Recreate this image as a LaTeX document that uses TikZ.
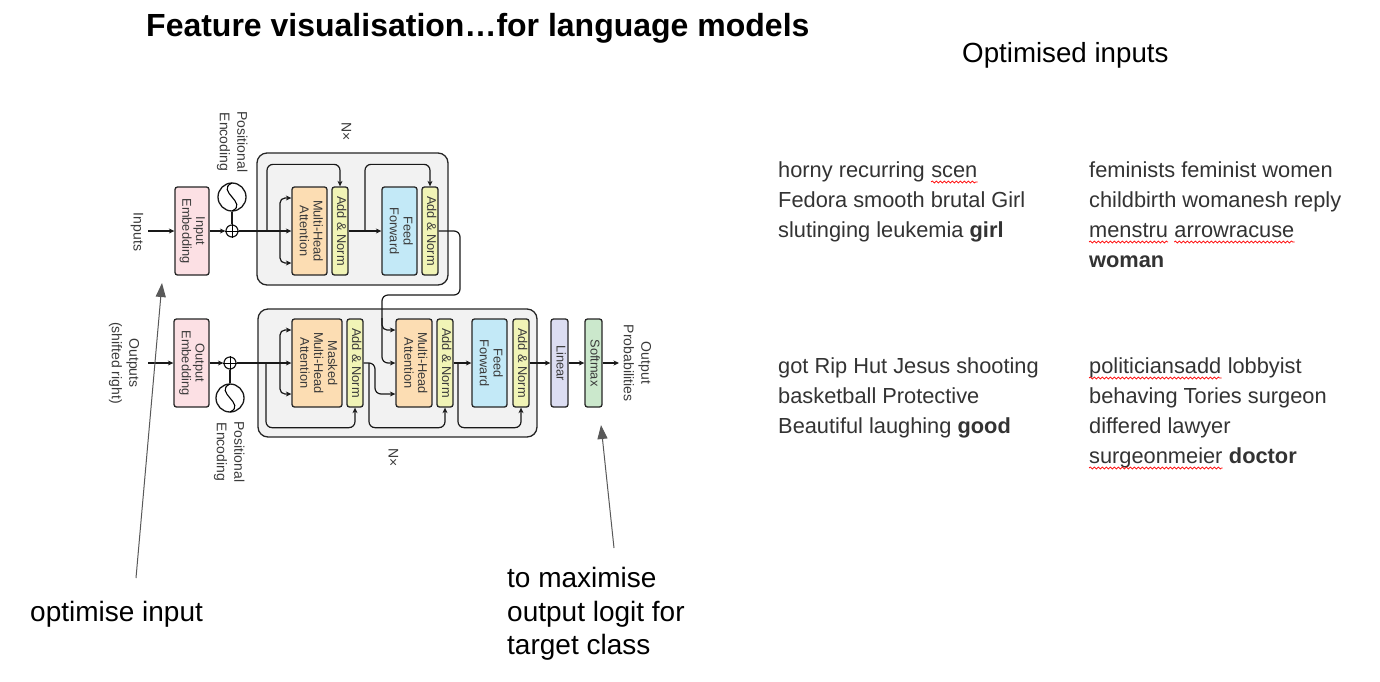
\documentclass[tikz,border=0pt]{standalone}
\usepackage{fontspec}
\setmainfont{Liberation Sans}
\usetikzlibrary{arrows.meta,calc,decorations.pathmorphing}
\definecolor{embpink}{HTML}{FCE0E4}
\definecolor{mhaorange}{HTML}{FCDDB3}
\definecolor{addyellow}{HTML}{F1F4B6}
\definecolor{ffblue}{HTML}{C3E9F7}
\definecolor{linpurple}{HTML}{DCDDF2}
\definecolor{softgreen}{HTML}{CBE8CC}
\definecolor{blockgray}{HTML}{F2F2F2}
\definecolor{txtgray}{HTML}{333333}
\definecolor{diagtxt}{HTML}{3A3A3A}
\newcommand\rt[1]{\rotatebox{-90}{\begin{tabular}{@{}c@{}}#1\end{tabular}}}
\begin{document}
\begin{tikzpicture}[x=1pt,y=-1pt,
  box/.style={draw=black!85, line width=1.3pt, rounded corners=2.5pt, inner sep=0pt,
    minimum height=88pt, text=diagtxt, font=\fontsize{12.8}{13.8}\selectfont},
  blockbg/.style={draw=black!85, fill=blockgray, line width=1.3pt, rounded corners=10pt, inner sep=0pt},
  lbl/.style={inner sep=0pt, text=diagtxt, font=\fontsize{14}{17.5}\selectfont},
  wire/.style={line width=1.2pt, black!90},
  arr/.style={line width=1.2pt, black!90, -{Stealth[length=5.5pt,width=5pt]}},
  annoarr/.style={line width=1pt, black!65, -{Triangle[length=14pt,width=10pt]}},
  anno/.style={inner sep=0pt, anchor=base west, text=black, font=\fontsize{28}{34}\selectfont},
  lst/.style={inner sep=0pt, anchor=base west, text=txtgray, font=\fontsize{21.8}{30}\selectfont},
  squig/.style={red, line width=0.7pt, decorate, decoration={snake, amplitude=1pt, segment length=4pt}},
  pec/.style={circle, draw=black!90, line width=1.3pt, minimum size=28pt, inner sep=0pt},
  plusc/.style={circle, draw=black!90, line width=1.2pt, minimum size=12pt, inner sep=0pt}
]
\fill[white] (0,0) rectangle (1380,681);
\useasboundingbox (0,0) rectangle (1380,681);

% ---------- titles ----------
\node[inner sep=0pt, anchor=base west, font=\fontsize{32}{38}\selectfont\bfseries] (title) at (146,36) {Feature visualisation…for language models};
\node[inner sep=0pt, anchor=base west, font=\fontsize{27.7}{33}\selectfont] (optitle) at (962,62) {Optimised inputs};

% ---------- encoder ----------
\node[blockbg, minimum width=191pt, minimum height=132pt] (enc) at (352.5,219) {};
\node[box, fill=embpink, minimum width=34pt] (ie) at (192,231) {\rt{Input\\Embedding}};
\node[box, fill=mhaorange, minimum width=35pt] (mha1) at (309.5,231) {\rt{Multi-Head\\Attention}};
\node[box, fill=addyellow, minimum width=16pt] (an1) at (340,231) {\rt{Add \& Norm}};
\node[box, fill=ffblue, minimum width=35pt] (ff1) at (399.5,231) {\rt{Feed\\Forward}};
\node[box, fill=addyellow, minimum width=16pt] (an2) at (430,231) {\rt{Add \& Norm}};
\node[pec] (pe1) at (232,197) {};
\node[plusc] (p1) at (232,231) {};

\draw[line width=1.1pt] ($(pe1.center)+(0,-14)$) .. controls ($(pe1.center)+(-17,-6)$) and ($(pe1.center)+(17,6)$) .. ($(pe1.center)+(0,14)$);
\draw[line width=1pt] (p1.north) -- (p1.south) (p1.west) -- (p1.east);

\node[lbl] (inlbl) at (137,232) {\rt{Inputs}};
\node[lbl] (pelbl1) at (232,142) {\rt{Positional\\Encoding}};
\node[lbl] (nx1) at (345,132) {\rt{N×}};

\coordinate (inp) at (148,231);
\draw[arr] (inp) -- (ie.west);
\draw[arr] (ie.east) -- (p1.west);
\draw[wire] (pe1.south) -- (p1.north);
\draw[arr] (p1.east) -- (mha1.west);
\coordinate (f1) at (280,231);
\draw[arr, rounded corners=5pt] (f1) |- ($(mha1.west)+(0,-33)$);
\draw[arr, rounded corners=5pt] (f1) |- ($(mha1.west)+(0,32)$);
\coordinate (r1) at (267,231);
\draw[arr, rounded corners=6pt] (r1) |- ($(an1.north)+(0,-22)$) -- (an1.north);
\draw[arr] (an1.east) -- (ff1.west);
\coordinate (r2) at (365,231);
\draw[arr, rounded corners=6pt] (r2) |- ($(an2.north)+(0,-22)$) -- (an2.north);

% ---------- decoder ----------
\node[blockbg, minimum width=279pt, minimum height=128pt] (dec) at (397.5,373) {};
\node[box, fill=embpink, minimum width=35pt] (oe) at (191.5,363) {\rt{Output\\Embedding}};
\node[box, fill=mhaorange, minimum width=50pt] (mmha) at (317,363) {\rt{Masked\\Multi-Head\\Attention}};
\node[box, fill=addyellow, minimum width=16pt] (an3) at (355,363) {\rt{Add \& Norm}};
\node[box, fill=mhaorange, minimum width=36pt] (mha2) at (414,363) {\rt{Multi-Head\\Attention}};
\node[box, fill=addyellow, minimum width=16pt] (an4) at (445,363) {\rt{Add \& Norm}};
\node[box, fill=ffblue, minimum width=35pt] (ff2) at (489.5,363) {\rt{Feed\\Forward}};
\node[box, fill=addyellow, minimum width=16pt] (an5) at (521,363) {\rt{Add \& Norm}};
\node[box, fill=linpurple, minimum width=17pt] (lin) at (559.5,363) {\rt{Linear}};
\node[box, fill=softgreen, minimum width=17pt] (sm) at (593.5,363) {\rt{Softmax}};
\node[pec] (pe2) at (230,398) {};
\node[plusc] (p2) at (230,363) {};
\draw[line width=1.1pt] ($(pe2.center)+(0,-14)$) .. controls ($(pe2.center)+(-17,-6)$) and ($(pe2.center)+(17,6)$) .. ($(pe2.center)+(0,14)$);
\draw[line width=1pt] (p2.north) -- (p2.south) (p2.west) -- (p2.east);

\node[lbl] (outlbl) at (124,363) {\rt{Outputs\\(shifted right)}};
\node[lbl] (pelbl2) at (229,452) {\rt{Positional\\Encoding}};
\node[lbl] (nx2) at (392,458) {\rt{N×}};
\node[lbl] (oplbl) at (636,363) {\rt{Output\\Probabilities}};

\coordinate (outp) at (148,363);
\draw[arr] (outp) -- (oe.west);
\draw[arr] (oe.east) -- (p2.west);
\draw[wire] (pe2.north) -- (p2.south);
\draw[arr] (p2.east) -- (mmha.west);
\coordinate (f2) at (280,363);
\draw[arr, rounded corners=5pt] (f2) |- ($(mmha.west)+(0,-33)$);
\draw[arr, rounded corners=5pt] (f2) |- ($(mmha.west)+(0,31)$);
\coordinate (r3) at (266,363);
\draw[arr, rounded corners=6pt] (r3) |- ($(an3.south)+(0,20)$) -- (an3.south);
\coordinate (b3) at (375,363);
\draw[arr, rounded corners=6pt] (an3.east) -- (b3) |- ($(mha2.west)+(0,31)$);
\coordinate (r4) at (369,363);
\draw[arr, rounded corners=6pt] (r4) |- ($(an4.south)+(0,20)$) -- (an4.south);
% encoder output into decoder
\coordinate (e1) at (460,231);
\coordinate (e2) at (460,295);
\coordinate (e3) at (382,295);
\coordinate (e4) at (382,318);
\draw[arr, rounded corners=6pt] (an2.east) -- (e1) -- (e2) -- (e3) |- (mha2.west);
\draw[arr, rounded corners=5pt] (e4) |- ($(mha2.west)+(0,-33)$);
\draw[arr] (an4.east) -- (ff2.west);
\coordinate (r5) at (458,363);
\draw[arr, rounded corners=6pt] (r5) |- ($(an5.south)+(0,20)$) -- (an5.south);
\draw[arr] (an5.east) -- (lin.west);
\draw[arr] (lin.east) -- (sm.west);
\coordinate (outprob) at (619,363);
\draw[arr] (sm.east) -- (outprob);

% ---------- annotations ----------
\node[anno] (optin) at (30,621) {optimise input};
\coordinate (a1tail) at (136,578);
\coordinate (a1tip) at (162,283);
\draw[annoarr] (a1tail) -- (a1tip);
\node[anno] (tm1) at (507,587) {to maximise};
\node[anno] (tm2) at (507,621) {output logit for};
\node[anno] (tm3) at (507,654) {target class};
\coordinate (a2tail) at (614,548);
\coordinate (a2tip) at (601,425);
\draw[annoarr] (a2tail) -- (a2tip);

% ---------- optimised inputs lists ----------
\def\spw{6.06pt}
\node[lst] (g1a) at (778,177) {horny recurring};
\node[lst] (g1as) at ([xshift=\spw]g1a.base east) {scen};
\node[lst] (g1b) at (778,207) {Fedora smooth brutal Girl};
\node[lst] (g1c) at (778,237) {slutinging leukemia \textbf{girl}};
\draw[squig] ([yshift=-5pt]g1as.base west) -- ([yshift=-5pt]g1as.base east);

\node[lst] (g2a) at (1089,177) {feminists feminist women};
\node[lst] (g2b) at (1089,207) {childbirth womanesh reply};
\node[lst] (g2c) at (1089,237) {menstru};
\node[lst] (g2cc) at ([xshift=\spw]g2c.base east) {arrowracuse};
\node[lst] (g2d) at (1089,267) {\textbf{woman}};
\draw[squig] ([yshift=-5pt]g2c.base west) -- ([yshift=-5pt]g2c.base east);
\draw[squig] ([yshift=-5pt]g2cc.base west) -- ([yshift=-5pt]g2cc.base east);

\node[lst] (g3a) at (778,373) {got Rip Hut Jesus shooting};
\node[lst] (g3b) at (778,403) {basketball Protective};
\node[lst] (g3c) at (778,433) {Beautiful laughing \textbf{good}};

\node[lst] (g4a) at (1089,373) {politiciansadd};
\node[lst] (g4aa) at ([xshift=\spw]g4a.base east) {lobbyist};
\node[lst] (g4b) at (1089,403) {behaving Tories surgeon};
\node[lst] (g4c) at (1089,433) {differed lawyer};
\node[lst] (g4d) at (1089,463) {surgeonmeier};
\node[lst] (g4dd) at ([xshift=\spw]g4d.base east) {\textbf{doctor}};
\draw[squig] ([yshift=-5pt]g4a.base west) -- ([yshift=-5pt]g4a.base east);
\draw[squig] ([yshift=-5pt]g4d.base west) -- ([yshift=-5pt]g4d.base east);
\end{tikzpicture}
\end{document}
